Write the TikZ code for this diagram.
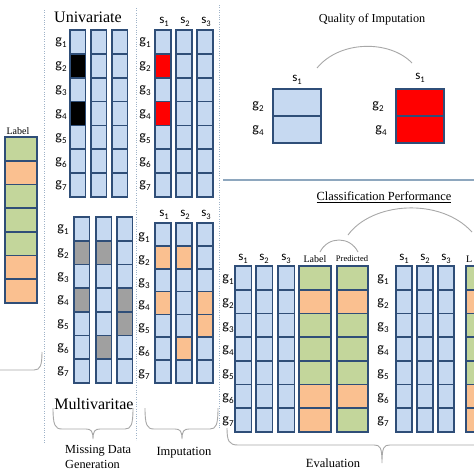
\documentclass[tikz,border=0pt]{standalone}
\usepackage{fontspec}
\setmainfont{Liberation Serif}
\newfontfamily\calfont{Carlito}
\definecolor{cb}{HTML}{C6D9F1}
\definecolor{cg}{HTML}{C3D69B}
\definecolor{co}{HTML}{FAC090}
\definecolor{cr}{HTML}{FF0000}
\definecolor{gy}{HTML}{A0A0A0}
\definecolor{bk}{HTML}{000000}
\definecolor{edge}{HTML}{2F4E78}
\definecolor{sepline}{HTML}{8EA7BE}
\definecolor{dotc}{HTML}{9FB3C8}
\definecolor{arcc}{HTML}{A8A8A8}
\newcommand\gsb[2]{{\calfont\fontsize{14}{14}\selectfont #1\raisebox{-0.45ex}{\fontsize{9}{9}\selectfont #2}}}
\newcommand\ssb[2]{{\calfont\fontsize{13}{13}\selectfont #1\raisebox{-0.45ex}{\fontsize{8.5}{8.5}\selectfont #2}}}
\newcommand\mcol[5]{%
  \foreach \cc [count=\ii from 0] in {#5} {
    \draw[cellline, fill=\cc] ({#1},{#2+\ii*#4}) rectangle ++({#3},{#4});
  }}
\begin{document}
\begin{tikzpicture}[x=1pt,y=-1pt,
  cellline/.style={draw=edge, line width=1.7pt},
  glab/.style={inner sep=0pt, anchor=center},
  sertext/.style={inner sep=0pt, anchor=center},
  dotline/.style={draw=dotc, line width=0.8pt, dash pattern=on 0.8pt off 1.6pt},
  arcline/.style={draw=arcc, line width=0.9pt},
  bracel/.style={draw=arcc, line width=0.9pt}]
\useasboundingbox (0,0) rectangle (474,474);
\clip (0,0) rectangle (474,474);
\fill[white] (0,0) rectangle (474,474);

% dotted separators
\coordinate (d1a) at (44,10); \coordinate (d1b) at (44,443);
\coordinate (d2a) at (136,8); \coordinate (d2b) at (136,440);
\coordinate (d3a) at (219,5); \coordinate (d3b) at (219,428);
\draw[dotline] (d1a) -- (d1b);
\draw[dotline] (d2a) -- (d2b);
\draw[dotline] (d3a) -- (d3b);

% horizontal separator
\coordinate (h1) at (223,180); \coordinate (h2) at (474,180);
\draw[draw=sepline, line width=1.8pt] (h1) -- (h2);

% left label column
\node[sertext, font=\fontsize{10}{10}\selectfont] (lab0) at (18,131) {Label};
\mcol{5}{137}{32}{23.7}{cg,co,cg,cg,cg,co,co}

% Univariate
\node[sertext, font=\fontsize{16}{16}\selectfont] (univ) at (88,17) {Univariate};
\mcol{70}{30}{15.5}{23.86}{cb,bk,cb,bk,cb,cb,cb}
\mcol{91}{30}{15.5}{23.86}{cb,cb,cb,cb,cb,cb,cb}
\mcol{112}{30}{15.5}{23.86}{cb,cb,cb,cb,cb,cb,cb}
\foreach \i in {1,...,7} \node[glab] (ua\i) at (61,{30+(\i-0.5)*23.86+1}) {\gsb{g}{\i}};

% Imputation top
\mcol{155}{30}{16}{23.86}{cb,cr,cb,cr,cb,cb,cb}
\mcol{176}{30}{16}{23.86}{cb,cb,cb,cb,cb,cb,cb}
\mcol{197}{30}{16}{23.86}{cb,cb,cb,cb,cb,cb,cb}
\foreach \i in {1,...,7} \node[glab] (ub\i) at (145,{30+(\i-0.5)*23.86+1}) {\gsb{g}{\i}};
\node[glab] (sa1) at (164,22) {\ssb{s}{1}};
\node[glab] (sa2) at (185,22) {\ssb{s}{2}};
\node[glab] (sa3) at (206,22) {\ssb{s}{3}};

% Multivariate
\mcol{74}{217}{15.5}{23.7}{cb,gy,cb,gy,cb,cb,cb}
\mcol{96}{217}{15.5}{23.7}{cb,gy,cb,cb,cb,gy,cb}
\mcol{117}{217}{15.5}{23.7}{cb,cb,cb,gy,gy,cb,cb}
\foreach \i in {1,...,7} \node[glab] (ma\i) at (63,{217+(\i-0.5)*23.7+1}) {\gsb{g}{\i}};
\node[sertext, font=\fontsize{16}{16}\selectfont] (multi) at (94,404) {Multivaritae};

% Imputation bottom
\mcol{155}{223}{16}{22.86}{cb,co,cb,co,cb,cb,cb}
\mcol{176}{223}{16}{22.86}{cb,co,cb,cb,cb,co,cb}
\mcol{197}{223}{16}{22.86}{cb,cb,cb,co,co,cb,cb}
\foreach \i in {1,...,7} \node[glab] (mb\i) at (144,{223+(\i-0.5)*22.86+3}) {\gsb{g}{\i}};
\node[glab] (sb1) at (164,215) {\ssb{s}{1}};
\node[glab] (sb2) at (185,215) {\ssb{s}{2}};
\node[glab] (sb3) at (206,215) {\ssb{s}{3}};

% braces bottom-left
\draw[bracel] (53,408) .. controls (53,425) and (55,429) .. (62,429) -- (86,429)
  .. controls (91,429) and (93,431) .. (93,439)
  .. controls (93,431) and (95,429) .. (100,429) -- (125,429)
  .. controls (131,429) and (133,425) .. (133,408);
\draw[bracel] (145,408) .. controls (145,425) and (147,429) .. (154,429) -- (175,429)
  .. controls (180,429) and (182,431) .. (182,439)
  .. controls (182,431) and (184,429) .. (189,429) -- (210,429)
  .. controls (216,429) and (218,425) .. (218,408);
\draw[bracel] (-5,370) -- (34,370) .. controls (40,370) and (42,366) .. (42,352);

\node[sertext, font=\fontsize{12.3}{15}\selectfont, align=left, anchor=west] (mdg) at (65,456.5) {Missing Data\\Generation};
\node[sertext, font=\fontsize{12.5}{12.5}\selectfont] (imp) at (184,453) {Imputation};

% Quality of imputation
\node[sertext, font=\fontsize{12.2}{12.2}\selectfont] (qoi) at (372,20) {Quality of Imputation};
\mcol{273}{89}{48}{27}{cb,cb}
\mcol{396}{89}{48}{27}{cr,cr}
\node[glab] (qs1) at (297,80) {\ssb{s}{1}};
\node[glab] (qs2) at (420,78) {\ssb{s}{1}};
\node[glab] (qg2) at (258,107) {\gsb{g}{2}};
\node[glab] (qg4) at (258,131) {\gsb{g}{4}};
\node[glab] (qr2) at (378,107) {\gsb{g}{2}};
\node[glab] (qr4) at (381,131) {\gsb{g}{4}};
\coordinate (qa1) at (317,68); \coordinate (qa2) at (412,63);
\draw[arcline] (qa1) .. controls (340,40) and (390,40) .. (qa2);

% Classification performance
\node[sertext, font=\fontsize{12.4}{12.4}\selectfont] (cp) at (384,197) {\underline{Classification Performance}};
\mcol{235}{266}{16.5}{23.7}{cb,cb,cb,cb,cb,cb,cb}
\mcol{256}{266}{16.5}{23.7}{cb,cb,cb,cb,cb,cb,cb}
\mcol{278}{266}{16.5}{23.7}{cb,cb,cb,cb,cb,cb,cb}
\mcol{299}{266}{32}{23.7}{cg,co,cg,cg,cg,co,co}
\mcol{337}{266}{31}{23.7}{cg,co,cg,cg,cg,co,cg}
\foreach \i in {1,...,7} \node[glab] (ea\i) at (228,{266+(\i-0.5)*23.7+2}) {\gsb{g}{\i}};
\node[glab] (es1) at (243,259) {\ssb{s}{1}};
\node[glab] (es2) at (264,259) {\ssb{s}{2}};
\node[glab] (es3) at (286,259) {\ssb{s}{3}};
\node[sertext, font=\fontsize{10}{10}\selectfont] (elab) at (315,259) {Label};
\node[sertext, font=\fontsize{8.5}{8.5}\selectfont] (epred) at (352,259) {Predicted};

\mcol{396}{266}{16}{23.7}{cb,cb,cb,cb,cb,cb,cb}
\mcol{417}{266}{16}{23.7}{cb,cb,cb,cb,cb,cb,cb}
\mcol{438}{266}{16}{23.7}{cb,cb,cb,cb,cb,cb,cb}
\mcol{466}{266}{32}{23.7}{cg,co,cg,cg,cg,co,co}
\foreach \i in {1,...,7} \node[glab] (eb\i) at (383,{266+(\i-0.5)*23.7+2}) {\gsb{g}{\i}};
\node[glab] (fs1) at (404,259) {\ssb{s}{1}};
\node[glab] (fs2) at (425,259) {\ssb{s}{2}};
\node[glab] (fs3) at (446,259) {\ssb{s}{3}};
\node[sertext, font=\fontsize{10}{10}\selectfont, anchor=west] (flab) at (466,259) {L};

\coordinate (ca1) at (320,252); \coordinate (ca2) at (358,252);
\draw[arcline] (ca1) .. controls (328,236) and (350,236) .. (ca2);
\coordinate (cb1) at (348,235); \coordinate (cb2) at (472,232);
\draw[arcline] (cb1) .. controls (372,202) and (440,197) .. (cb2);

% Evaluation brace
\draw[bracel] (227,428) .. controls (227,441) and (229,445) .. (238,445) -- (374,445)
  .. controls (380,445) and (382,447) .. (382,463)
  .. controls (382,447) and (384,445) .. (390,445) -- (480,445);
\node[sertext, font=\fontsize{12.5}{12.5}\selectfont] (eval) at (333,463) {Evaluation};
\end{tikzpicture}
\end{document}
